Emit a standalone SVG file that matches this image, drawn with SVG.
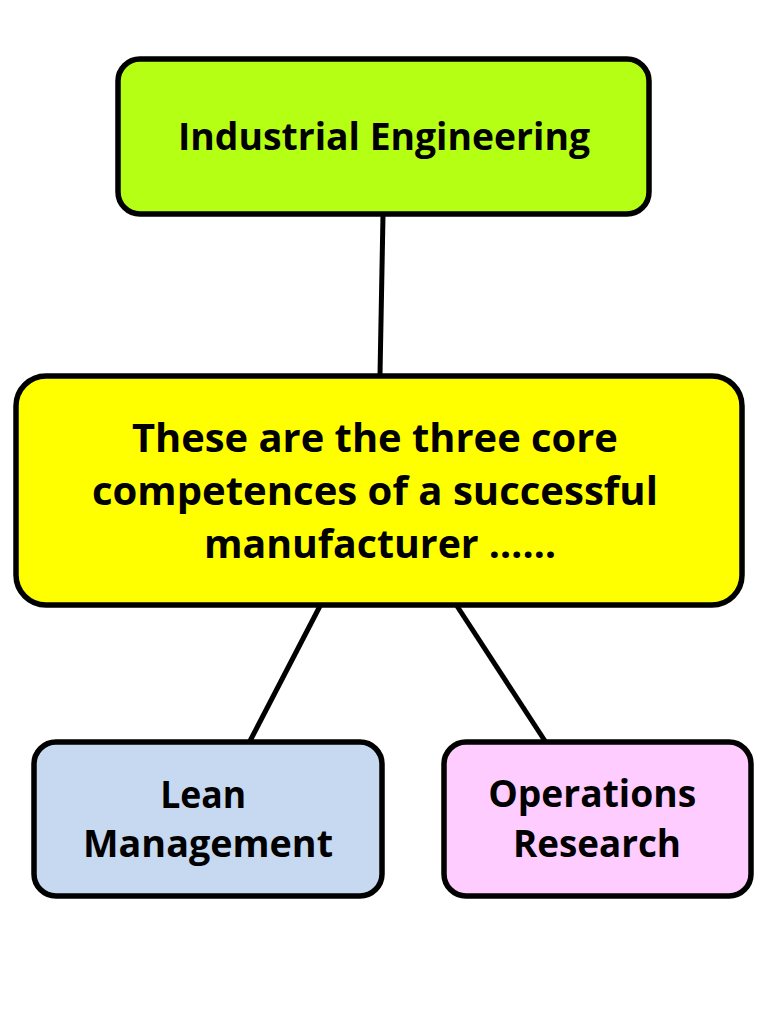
<svg xmlns="http://www.w3.org/2000/svg" width="768" height="1024" viewBox="0 0 768 1024">
<style>
.box{stroke:#000;stroke-width:5.5}
.t{font-family:"Open Sans","Noto Sans","Liberation Sans",sans-serif;font-weight:bold;fill:#000;text-anchor:middle}
.c{stroke:#000;stroke-width:5;fill:none}
</style>
<rect width="768" height="1024" fill="#fff"/>
<g id="connectors">
<line class="c" x1="383" y1="215" x2="380" y2="375"/>
<line class="c" x1="320" y1="606" x2="250" y2="741"/>
<line class="c" x1="457" y1="606" x2="545" y2="741"/>
</g>
<g id="industrial-engineering">
<rect class="box" x="118" y="59" width="531" height="155" rx="22" fill="#B5FF14"/>
<text class="t" x="384" y="150" font-size="37" textLength="412" lengthAdjust="spacingAndGlyphs">Industrial Engineering</text>
</g>
<g id="core">
<rect class="box" x="16" y="376" width="726" height="229" rx="30" fill="#FFFF00"/>
<text class="t" font-size="39">
<tspan x="380" y="452" textLength="486" lengthAdjust="spacingAndGlyphs">These are the three core</tspan>
<tspan x="380" y="505" textLength="566" lengthAdjust="spacingAndGlyphs">competences of a successful</tspan>
<tspan x="380" y="558" textLength="352" lengthAdjust="spacingAndGlyphs">manufacturer ……</tspan>
</text>
</g>
<g id="lean">
<rect class="box" x="34" y="742" width="348" height="154" rx="22" fill="#C6D9F1"/>
<text class="t" font-size="37">
<tspan x="208" y="808" textLength="86" lengthAdjust="spacingAndGlyphs">Lean</tspan>
<tspan x="208" y="857" textLength="250" lengthAdjust="spacingAndGlyphs">Management</tspan>
</text>
</g>
<g id="operations">
<rect class="box" x="444" y="742" width="307" height="154" rx="22" fill="#FFCCFF"/>
<text class="t" font-size="37">
<tspan x="597" y="807" textLength="208" lengthAdjust="spacingAndGlyphs">Operations</tspan>
<tspan x="597" y="857" textLength="168" lengthAdjust="spacingAndGlyphs">Research</tspan>
</text>
</g>
</svg>
